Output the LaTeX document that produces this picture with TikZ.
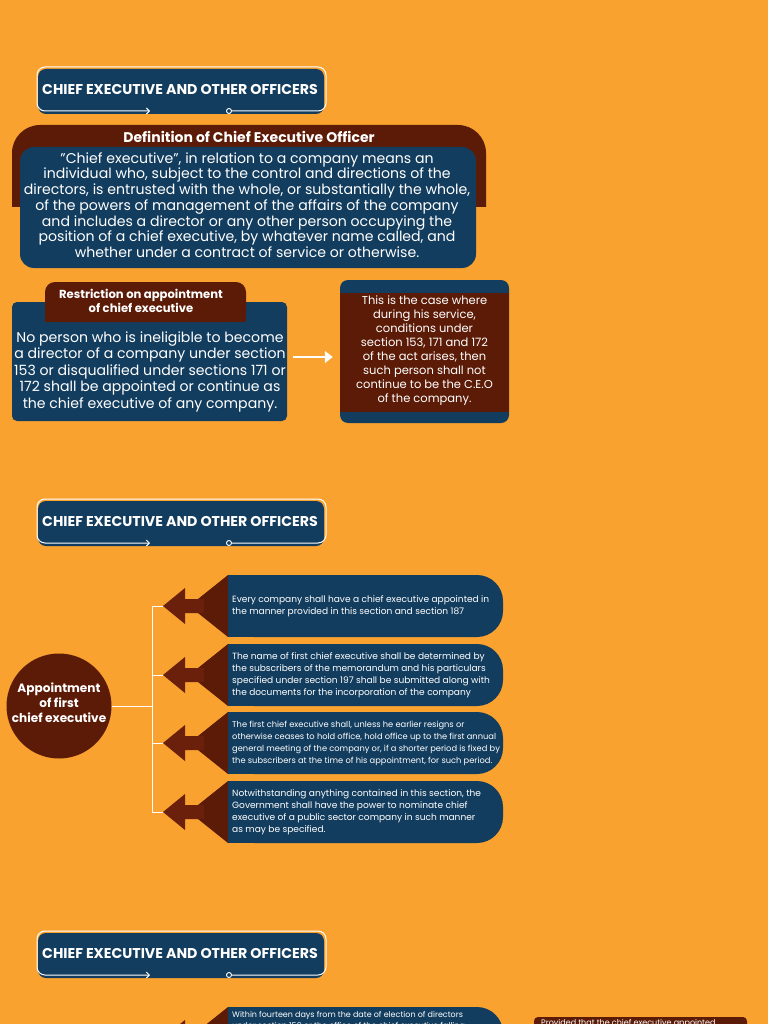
\documentclass[tikz,border=0pt]{standalone}
\usepackage{fontspec}
\setmainfont{Poppins}
\usetikzlibrary{arrows.meta}
\definecolor{bg}{HTML}{F9A230}
\definecolor{navy}{HTML}{133D5E}
\definecolor{maroon}{HTML}{5C1B07}
\definecolor{maroonL}{HTML}{6A200B}
\tikzset{
  hdr/.style={text=white, font=\fontsize{14.2}{16}\selectfont\bfseries, inner sep=0pt},
  ttl/.style={text=white, font=\fontsize{14}{16}\selectfont\bfseries, inner sep=0pt},
  bodytext/.style={text=white, align=center, inner sep=0pt, font=\fontsize{14.1}{15.7}\selectfont},
  restrtextstyle/.style={text=white, align=center, inner sep=0pt, font=\fontsize{14.1}{16.5}\selectfont},
  tabtext/.style={text=white, align=center, inner sep=0pt, font=\fontsize{11.6}{14}\selectfont\bfseries},
  ceotext/.style={text=white, align=center, inner sep=0pt, font=\fontsize{11.5}{14.1}\selectfont},
  itemtext/.style={text=white, align=left, inner sep=0pt, font=\fontsize{9.05}{12}\selectfont},
  itemtextsmall/.style={text=white, align=left, inner sep=0pt, font=\fontsize{8.3}{12}\selectfont},
  smalltext/.style={text=white, align=left, inner sep=0pt, font=\fontsize{8}{11}\selectfont},
  wline/.style={draw=white, line width=1pt},
}
\begin{document}
\begin{tikzpicture}[x=1pt,y=-1pt]
\useasboundingbox (0,0) rectangle (768,1024);
\clip (0,0) rectangle (768,1024);
\fill[bg] (0,0) rectangle (768,1024);

% ---------- headers ----------
\foreach \t/\nm in {68/hA,500/hB,932/hC}{
  \fill[navy, rounded corners=8] (38,\t+1) rectangle (324,\t+46);
  \draw[white, line width=1pt, rounded corners=8, {Straight Barb[length=3pt,width=6pt]}-]
    (150,\t+43) -- (37,\t+43) -- (37,\t-1) -- (326,\t-1) -- (326,\t+43) -- (231.5,\t+43);
  \draw[white, line width=0.9pt, fill=navy] (229,\t+43) circle[radius=2.5pt];
  \node[hdr] (\nm) at (180,\t+21) {CHIEF EXECUTIVE AND OTHER OFFICERS};
}

% ---------- definition ----------
\begin{scope}
  \clip (0,0) rectangle (768,207);
  \fill[maroon, rounded corners=28] (12,125) rectangle (486,260);
\end{scope}
\node[ttl] (deftitle) at (249,137) {Definition of Chief Executive Officer};
\node[fill=navy, rounded corners=14, minimum width=456pt, minimum height=121pt, inner sep=0pt] (defbox) at (248,207.5) {};
\node[bodytext] (deftext) at (247,205) {"Chief executive", in relation to a company means an\\
individual who, subject to the control and directions of the\\
directors, is entrusted with the whole, or substantially the whole,\\
of the powers of management of the affairs of the company\\
and includes a director or any other person occupying the\\
position of a chief executive, by whatever name called, and\\
whether under a contract of service or otherwise.};

% ---------- restriction ----------
\node[fill=navy, rounded corners=5, minimum width=275pt, minimum height=119pt, inner sep=0pt] (restrbox) at (149.5,361.5) {};
\fill[maroon, rounded corners=10] (45,282) rectangle (246,322);
\fill[maroon] (45,300) rectangle (246,322);
\node[tabtext] (restrtab) at (141,301) {Restriction on appointment\\of chief executive};
\node[restrtextstyle] (restrtext) at (150,371.5) {No person who is ineligible to become\\
a director of a company under section\\
153 or disqualified under sections 171 or\\
172 shall be appointed or continue as\\
the chief executive of any company.};

\node[fill=navy, rounded corners=8, minimum width=169pt, minimum height=143pt, inner sep=0pt] (ceobox) at (424.5,351.5) {};
\fill[maroon] (340,293) rectangle (509,412);
\node[ceotext] (ceotext) at (424.5,350.5) {This is the case where\\
during his service,\\
conditions under\\
section 153, 171 and 172\\
of the act arises, then\\
such person shall not\\
continue to be the C.E.O\\
of the company.};

\coordinate (ay) at (0,357);
\draw[white, line width=1.6pt, -{Triangle[length=8pt,width=12pt]}, shorten <=6pt, shorten >=7pt]
  (restrbox.east |- ay) -- (ceobox.west |- ay);

% ---------- appointment ----------
\node[circle, fill=maroon, minimum size=105pt, inner sep=0pt] (appt) at (59,706) {};
\node[text=white, align=center, inner sep=0pt,
      font=\fontsize{12.1}{15}\selectfont\bfseries] (appttext) at (59,702.5) {Appointment\\of first\\chief executive};

\foreach \t/\n/\st/\txt in {
  575/1/itemtext/{Every company shall have a chief executive appointed in\\the manner provided in this section and section 187},
  644/2/itemtext/{The name of first chief executive shall be determined by\\the subscribers of the memorandum and his particulars\\specified under section 197 shall be submitted along with\\the documents for the incorporation of the company},
  712/3/itemtextsmall/{The first chief executive shall, unless he earlier resigns or\\otherwise ceases to hold office, hold office up to the first annual\\general meeting of the company or, if a shorter period is fixed by\\the subscribers at the time of his appointment, for such period.},
  781/4/itemtext/{Notwithstanding anything contained in this section, the\\Government shall have the power to nominate chief\\executive of a public sector company in such manner\\as may be specified.}}{
  \pgfmathsetmacro\c{\t+31}
  \fill[maroon] (198,\c-7) -- (228,\t) -- (228,\t+62) -- (198,\c+7) -- cycle;
  \fill[maroonL] (163,\c) -- (185,\c-18) -- (185,\c-7) -- (204,\c-7) -- (204,\c+7) -- (185,\c+7) -- (185,\c+18) -- cycle;
  \coordinate (tip\n) at (163,\c);
  \fill[navy, rounded corners=26] (228,\t) rectangle (503,\t+62);
  \fill[navy] (228,\t) rectangle (400,\t+62);
  \node[\st, anchor=west] (item\n) at (232,\c) {\txt};
}
\coordinate (bus) at (152,706);
\draw[wline] (appt.east) -- (bus);
\draw[wline] (bus |- tip1) -- (bus |- tip4);
\foreach \n in {1,...,4}{\draw[wline] (bus |- tip\n) -- (tip\n);}

% ---------- bottom (cut off as in the reference) ----------
\fill[maroon] (198,1031) -- (228,1007) -- (228,1069) -- (198,1045) -- cycle;
\fill[maroonL] (163,1038) -- (185,1020) -- (185,1031) -- (204,1031) -- (204,1045) -- (185,1045) -- (185,1056) -- cycle;
\fill[navy, rounded corners=26] (228,1007) rectangle (503,1069);
\fill[navy] (228,1007) rectangle (400,1069);
\node[smalltext, anchor=north west] (bottomtext) at (232,1011) {Within fourteen days from the date of election of directors\\under section 159 or the office of the chief executive falling};
\node[fill=maroon, rounded corners=4, minimum width=213pt, minimum height=40pt, inner sep=0pt] (provbox) at (640.5,1037) {};
\node[smalltext, anchor=north west] (provtext) at (541,1019.5) {Provided that the chief executive appointed};
\end{tikzpicture}
\end{document}
